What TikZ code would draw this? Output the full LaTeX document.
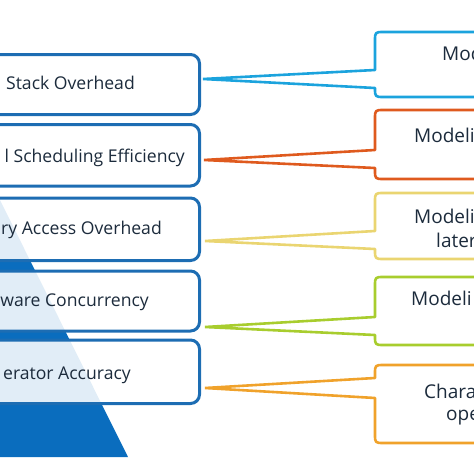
\documentclass[tikz,border=0pt]{standalone}
\usepackage{fontspec}
\setmainfont{Open Sans}
\definecolor{pyr}{HTML}{0A6DBE}
\definecolor{lbox}{HTML}{1D6DB3}
\definecolor{txt}{HTML}{1C2B3C}
\definecolor{cA}{HTML}{1BA3DD}
\definecolor{cB}{HTML}{DF5A1E}
\definecolor{cC}{HTML}{EAD571}
\definecolor{cD}{HTML}{A8CD2E}
\definecolor{cE}{HTML}{F0A22B}
\tikzset{
  leftbox/.style={draw=lbox, line width=3pt, rounded corners=9pt, fill=white, fill opacity=0.88},
  callout/.style={line width=2.6pt, fill=white, line join=round},
  lbl/.style={inner sep=0pt, text=txt, font=\fontsize{17.6}{21}\selectfont},
  rlbl/.style={inner sep=0pt, text=txt, font=\fontsize{19}{23}\selectfont},
}
\begin{document}
\begin{tikzpicture}[x=1pt,y=-1pt]
\useasboundingbox (0,0) rectangle (474,474);
\clip (0,0) rectangle (474,474);
% pyramid
\fill[pyr] (-10,180) -- (128,457) -- (-400,457) -- cycle;
% left boxes
\draw[leftbox] (-30,54.5) rectangle (199.5,114.5);
\draw[leftbox] (-30,124.5) rectangle (199.5,186);
\draw[leftbox] (-30,198) rectangle (199.5,260.5);
\draw[leftbox] (-30,271) rectangle (199.5,331);
\draw[leftbox] (-30,340) rectangle (199.5,403.5);
% left labels
\node[lbl, anchor=base east] (l1) at (135,89) {Stack Overhead};
\node[lbl, anchor=base east] (l2) at (185,162) {l Scheduling Efficiency};
\node[lbl, anchor=base east] (l3) at (162,234) {ry Access Overhead};
\node[lbl, anchor=base east] (l4) at (149,306) {ware Concurrency};
\node[lbl, anchor=base east] (l5) at (131,379) {erator Accuracy};
% callouts
\coordinate (t1) at (203,79);
\coordinate (t2) at (204,160);
\coordinate (t3) at (205,241);
\coordinate (t4) at (205,327);
\coordinate (t5) at (205,388);
\draw[callout, draw=cA] (t1) -- (375,70) -- (375,41) .. controls (375,32) .. (384,32) -- (620,32) -- (620,97) -- (384,97) .. controls (375,97) .. (375,88) -- (t1);
\draw[callout, draw=cB] (t2) -- (375,150) -- (375,119) .. controls (375,110) .. (384,110) -- (620,110) -- (620,179) -- (384,179) .. controls (375,179) .. (375,170) -- (375,168) -- (t2);
\draw[callout, draw=cC] (t3) -- (375,231) -- (375,202) .. controls (375,193) .. (384,193) -- (620,193) -- (620,259) -- (384,259) .. controls (375,259) .. (375,250) -- (375,249) -- (t3);
\draw[callout, draw=cD] (t4) -- (375,317) -- (375,286) .. controls (375,277) .. (384,277) -- (620,277) -- (620,345) -- (384,345) .. controls (375,345) .. (375,336) -- (375,335) -- (t4);
\draw[callout, draw=cE] (t5) -- (375,378) -- (375,374) .. controls (375,365) .. (384,365) -- (620,365) -- (620,443) -- (384,443) .. controls (375,443) .. (375,434) -- (375,398) -- (t5);
% right labels
\node[rlbl, anchor=base west] (r1) at (442,60) {Mod};
\node[rlbl, anchor=base west] (r2) at (414,142) {Modeli};
\node[rlbl, anchor=base west] (r3a) at (414,223) {Modeli};
\node[rlbl, anchor=base west] (r3b) at (436,247) {later};
\node[rlbl, anchor=base west] (r4) at (411,305) {Modeli};
\node[rlbl, anchor=base west] (r5a) at (424,398) {Chara};
\node[rlbl, anchor=base west] (r5b) at (446,420) {ope};
\end{tikzpicture}
\end{document}
